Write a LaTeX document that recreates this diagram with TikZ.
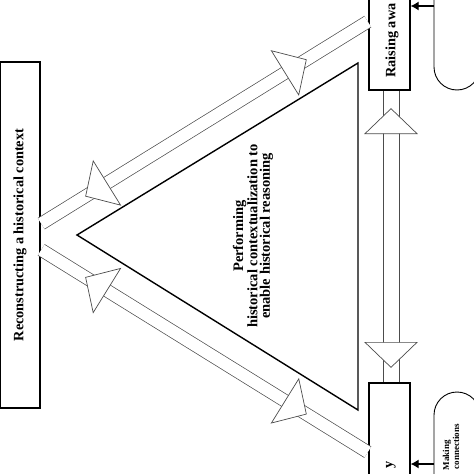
\documentclass[tikz,border=0pt]{standalone}
\usepackage{fontspec}
\setmainfont{Liberation Serif}
\usetikzlibrary{arrows.meta}
\usetikzlibrary{decorations.markings}
\tikzset{
    box/.style={draw, line width=1.3pt, inner sep=0pt},
    oval/.style={draw, line width=0.9pt, rounded corners=23pt, inner sep=0pt},
    boxtext/.style={rotate=90, inner sep=0pt, font=\fontsize{14.3}{16}\selectfont\bfseries},
    smalltext/.style={rotate=90, inner sep=0pt, anchor=east, font=\fontsize{9}{9}\selectfont\bfseries},
    shaft/.style={draw=gray!60!black, line width=0.7pt, double, double distance=12pt,
        shorten >=0.7pt, shorten <=0.7pt},
    rail/.style={draw=gray!60!black, line width=0.7pt, shorten >=0.7pt, shorten <=0.7pt},
    tipline/.style={draw=gray!60!black, fill=white, line width=0.7pt},
    tips/.style 2 args={decoration={markings,
        mark=at position #1 with {\draw[tipline] (0pt,0pt) -- (25pt,26pt) -- (25pt,-26pt) -- cycle;},
        mark=at position #2 with {\draw[tipline] (0pt,0pt) -- (-25pt,26pt) -- (-25pt,-26pt) -- cycle;}},
        postaction=decorate},
    pointer/.style={-{Latex[length=8pt, width=9pt]}, line width=1.1pt}
}

\begin{document}
\begin{tikzpicture}[x=1pt, y=-1pt]
		\useasboundingbox (0,0) rectangle (474,474);
		\clip (0,0) rectangle (474,474);

		% boxes
		\node[box, minimum width=40pt, minimum height=346pt] (context) at (20,235) {};
	    \node[boxtext] (contextlabel) at (20,235) {Reconstructing a historical context};

		\node[box, minimum width=41pt, minimum height=150pt] (awareness) at (389.5,15) {};
	    \node[boxtext, anchor=west] (awarenesslabel) at (392,78) {Raising awa};

		\node[box, minimum width=41pt, minimum height=150pt] (history) at (389.5,458) {};
	    \node[boxtext, anchor=east] (historylabel) at (391,461) {y};

		\node[oval, minimum width=46pt, minimum height=150pt] (topoval) at (457,15) {};
		\node[oval, minimum width=46pt, minimum height=150pt] (lowoval) at (457,467) {};
	    \node[smalltext] (making) at (447,440) {Making};
	    \node[smalltext] (connections) at (456,424) {connections};

		\coordinate (A) at (77,235);
		\coordinate (B) at (358,63);
		\coordinate (C) at (358,410);
		\draw[line width=1.4pt] (A) -- (B) -- (C) -- cycle;
	    \node[rotate=90, align=center, inner sep=0pt, font=\fontsize{14.5}{12.3}\selectfont\bfseries] (goal) at (253,236)
	        {Performing\\historical contextualization to\\enable historical reasoning};

		% arrows
		\draw[shaft] ([yshift=11pt]context.east) -- ([yshift=-6.3pt]awareness.west);
		\path[tips={52.9pt}{-72.9pt}] ([yshift=11pt]context.east) -- ([yshift=-6.3pt]awareness.west);

		\draw[shaft] ([yshift=-14.5pt]context.east) -- ([yshift=5.5pt]history.west);
		\path[tips={52.9pt}{-72.9pt}] ([yshift=-14.5pt]context.east) -- ([yshift=5.5pt]history.west);

		\draw[rail] ([xshift=-6.5pt]awareness.south) -- ([xshift=-6.5pt]history.north);
		\draw[rail] ([xshift=9.5pt]awareness.south) -- ([xshift=9.5pt]history.north);
		\path[tips={18pt}{-15pt}] ([xshift=1.5pt]awareness.south) -- ([xshift=1.5pt]history.north);

		\draw[pointer] ([yshift=9pt]topoval.west) -- ([yshift=9pt]awareness.east);
		\draw[pointer] ([yshift=3pt]lowoval.west) -- ([yshift=-6pt]history.east);
\end{tikzpicture}
\end{document}
